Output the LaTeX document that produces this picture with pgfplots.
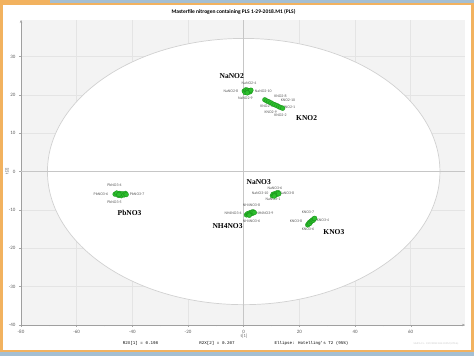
\documentclass[border=0pt]{standalone}
\usepackage{fontspec}
\setmainfont{Carlito}
\newfontfamily\grpfont{Liberation Serif}
\newfontfamily\monof{Liberation Mono}
\usepackage{pgfplots}
\pgfplotsset{compat=1.18}
\usetikzlibrary{arrows.meta}
\definecolor{frameor}{HTML}{F2B25F}
\definecolor{framebl}{HTML}{A4BFD3}
\definecolor{plotbg}{HTML}{F3F3F3}
\definecolor{gridc}{HTML}{E4E4E4}
\definecolor{zeroc}{HTML}{C6C6C6}
\definecolor{ptfill}{HTML}{2DBE2D}
\definecolor{ptdraw}{HTML}{17901A}
\definecolor{lblc}{HTML}{5A5A5A}
\begin{document}
\begin{tikzpicture}[x=1pt,y=1pt]
\fill[framebl] (0,0) rectangle (474,356);
\fill[frameor] (0,4) rectangle (474,353);
\fill[frameor] (0,353) rectangle (50,356);
\fill[white] (3,6) rectangle (471,351);
\begin{axis}[
  at={(21pt,31pt)}, anchor=south west,
  width=444pt, height=305pt, scale only axis,
  xmin=-80, xmax=79.5, ymin=-40, ymax=39.5,
  axis lines=left,
  axis line style={draw=gray!75, line width=0.5pt, -{Stealth[length=3pt,width=2.4pt]}},
  axis background/.style={fill=plotbg},
  xtick={-80,-60,...,60}, ytick={-40,-30,...,30},
  minor x tick num=1,
  tick style={gray!70, line width=0.4pt},
  major tick length=2pt, minor tick length=1.5pt,
  tick align=outside,
  grid=major, grid style={gridc, line width=0.5pt},
  ticklabel style={font=\fontsize{5}{5}\selectfont, text=gray!75!black},
  /pgf/number format/assume math mode=true,
  pt/.style={only marks, mark=*, mark size=2.4pt, mark options={fill=ptfill, draw=ptdraw, line width=0.3pt}},
]
\draw[zeroc!80, fill=white, line width=0.7pt] (axis cs:0,0) ellipse [x radius=70.5, y radius=34.7];
\draw[zeroc, line width=1pt] (axis cs:0,-40) -- (axis cs:0,39.5);
\draw[zeroc, line width=1pt] (axis cs:-80,0) -- (axis cs:79.5,0);

% NaNO2
\addplot[pt] coordinates {(0.2,21.0) (0.5,20.6) (0.8,21.3) (1.1,20.9) (1.4,21.2) (1.7,20.7) (2.0,21.1) (2.3,20.8) (2.6,21.2) (1.3,20.5)};
% KNO2
\addplot[pt] coordinates {(7.6,18.7) (8.3,18.4) (9.0,18.2) (9.8,17.9) (10.5,17.6) (11.2,17.4) (11.9,17.2) (12.6,16.9) (13.3,16.7) (14.0,16.5)};
% PbNO3
\addplot[pt] coordinates {(-46.2,-5.9) (-45.6,-5.6) (-45.0,-6.2) (-44.5,-5.7) (-44.0,-6.3) (-43.5,-5.8) (-43.0,-6.1) (-42.5,-5.7) (-42.2,-6.0) (-44.8,-6.0)};
% NaNO3
\addplot[pt] coordinates {(10.3,-6.3) (10.6,-5.9) (10.9,-6.2) (11.2,-5.8) (11.5,-6.0) (11.8,-5.6) (12.1,-5.9) (12.4,-5.5) (12.6,-5.8) (11.0,-6.4)};
% NH4NO3
\addplot[pt] coordinates {(1.0,-11.3) (1.4,-11.0) (1.8,-11.2) (2.1,-10.8) (2.5,-11.0) (2.8,-10.6) (3.1,-10.9) (3.4,-10.5) (3.8,-10.7) (2.0,-11.4)};
% KNO3
\addplot[pt] coordinates {(23.0,-13.9) (23.3,-13.6) (23.6,-13.3) (23.8,-13.5) (24.1,-13.0) (24.4,-12.9) (24.7,-12.6) (25.0,-12.7) (25.3,-12.3) (25.5,-12.2)};

\tikzset{obs/.style={font=\fontsize{3.9}{4}\selectfont, text=lblc, inner sep=0pt},
         grp/.style={font=\grpfont\bfseries\fontsize{7.5}{8}\selectfont, inner sep=0pt}}
% observation labels
\node[obs] at (axis cs:1.9,23.0) {NaNO2-4};
\node[obs] at (axis cs:-4.6,21.0) {NaNO2-8};
\node[obs] at (axis cs:7.0,21.0) {NaNO2-10};
\node[obs] at (axis cs:0.6,19.0) {NaNO2-9};
\node[obs] at (axis cs:13.2,19.6) {KNO2-8};
\node[obs] at (axis cs:15.9,18.5) {KNO2-10};
\node[obs] at (axis cs:8.2,16.9) {KNO2-7};
\node[obs] at (axis cs:16.3,16.7) {KNO2-1};
\node[obs] at (axis cs:9.7,15.4) {KNO2-9};
\node[obs] at (axis cs:13.2,14.7) {KNO2-2};
\node[obs] at (axis cs:-46.4,-3.6) {PbNO3-4};
\node[obs] at (axis cs:-51.3,-5.8) {PbNO3-6};
\node[obs] at (axis cs:-38.3,-5.8) {PbNO3-7};
\node[obs] at (axis cs:-46.4,-7.9) {PbNO3-5};
\node[obs] at (axis cs:11.2,-4.3) {NaNO3-6};
\node[obs] at (axis cs:5.9,-5.6) {NaNO3-10};
\node[obs] at (axis cs:15.5,-5.6) {NaNO3-8};
\node[obs] at (axis cs:10.5,-7.1) {NaNO3-1};
\node[obs] at (axis cs:2.8,-8.8) {NH4NO3-8};
\node[obs] at (axis cs:-3.8,-11.0) {NH4NO3-4};
\node[obs] at (axis cs:7.6,-11.0) {NH4NO3-9};
\node[obs] at (axis cs:2.8,-12.9) {NH4NO3-6};
\node[obs] at (axis cs:23.1,-10.5) {KNO3-7};
\node[obs] at (axis cs:18.8,-13.0) {KNO3-8};
\node[obs] at (axis cs:28.5,-12.7) {KNO3-4};
\node[obs] at (axis cs:23.1,-15.1) {KNO3-6};
% group labels
\node[grp] at (axis cs:-4.3,25.0) {NaNO2};
\node[grp] at (axis cs:22.6,14.0) {KNO2};
\node[grp] at (axis cs:-41.0,-10.8) {PbNO3};
\node[grp] at (axis cs:5.4,-2.7) {NaNO3};
\node[grp] at (axis cs:-5.8,-14.3) {NH4NO3};
\node[grp] at (axis cs:32.4,-15.9) {KNO3};
\end{axis}
% titles and footer
\node[font=\bfseries\fontsize{5.5}{6}\selectfont] at (233.5,344) {Masterfile nitrogen containing PLS 1-29-2018.M1 (PLS)};
\node[font=\fontsize{4.5}{5}\selectfont, text=gray!75!black] at (244,19.5) {t[1]};
\node[font=\fontsize{4.5}{5}\selectfont, text=gray!75!black, rotate=90] at (7,185) {t[2]};
\node[font=\monof\fontsize{4.2}{5}\selectfont] at (140.5,13) {R2X[1] = 0.198};
\node[font=\monof\fontsize{4.2}{5}\selectfont] at (217,13) {R2X[2] = 0.207};
\node[font=\monof\fontsize{4.2}{5}\selectfont] at (311.5,13) {Ellipse: Hotelling's T2 (95\%)};
\node[font=\fontsize{2.6}{3}\selectfont, text=gray!45] at (436,12) {SIMCA 15 - 1/29/2018 3:04:33 PM (UTC-6)};
\end{tikzpicture}
\end{document}
